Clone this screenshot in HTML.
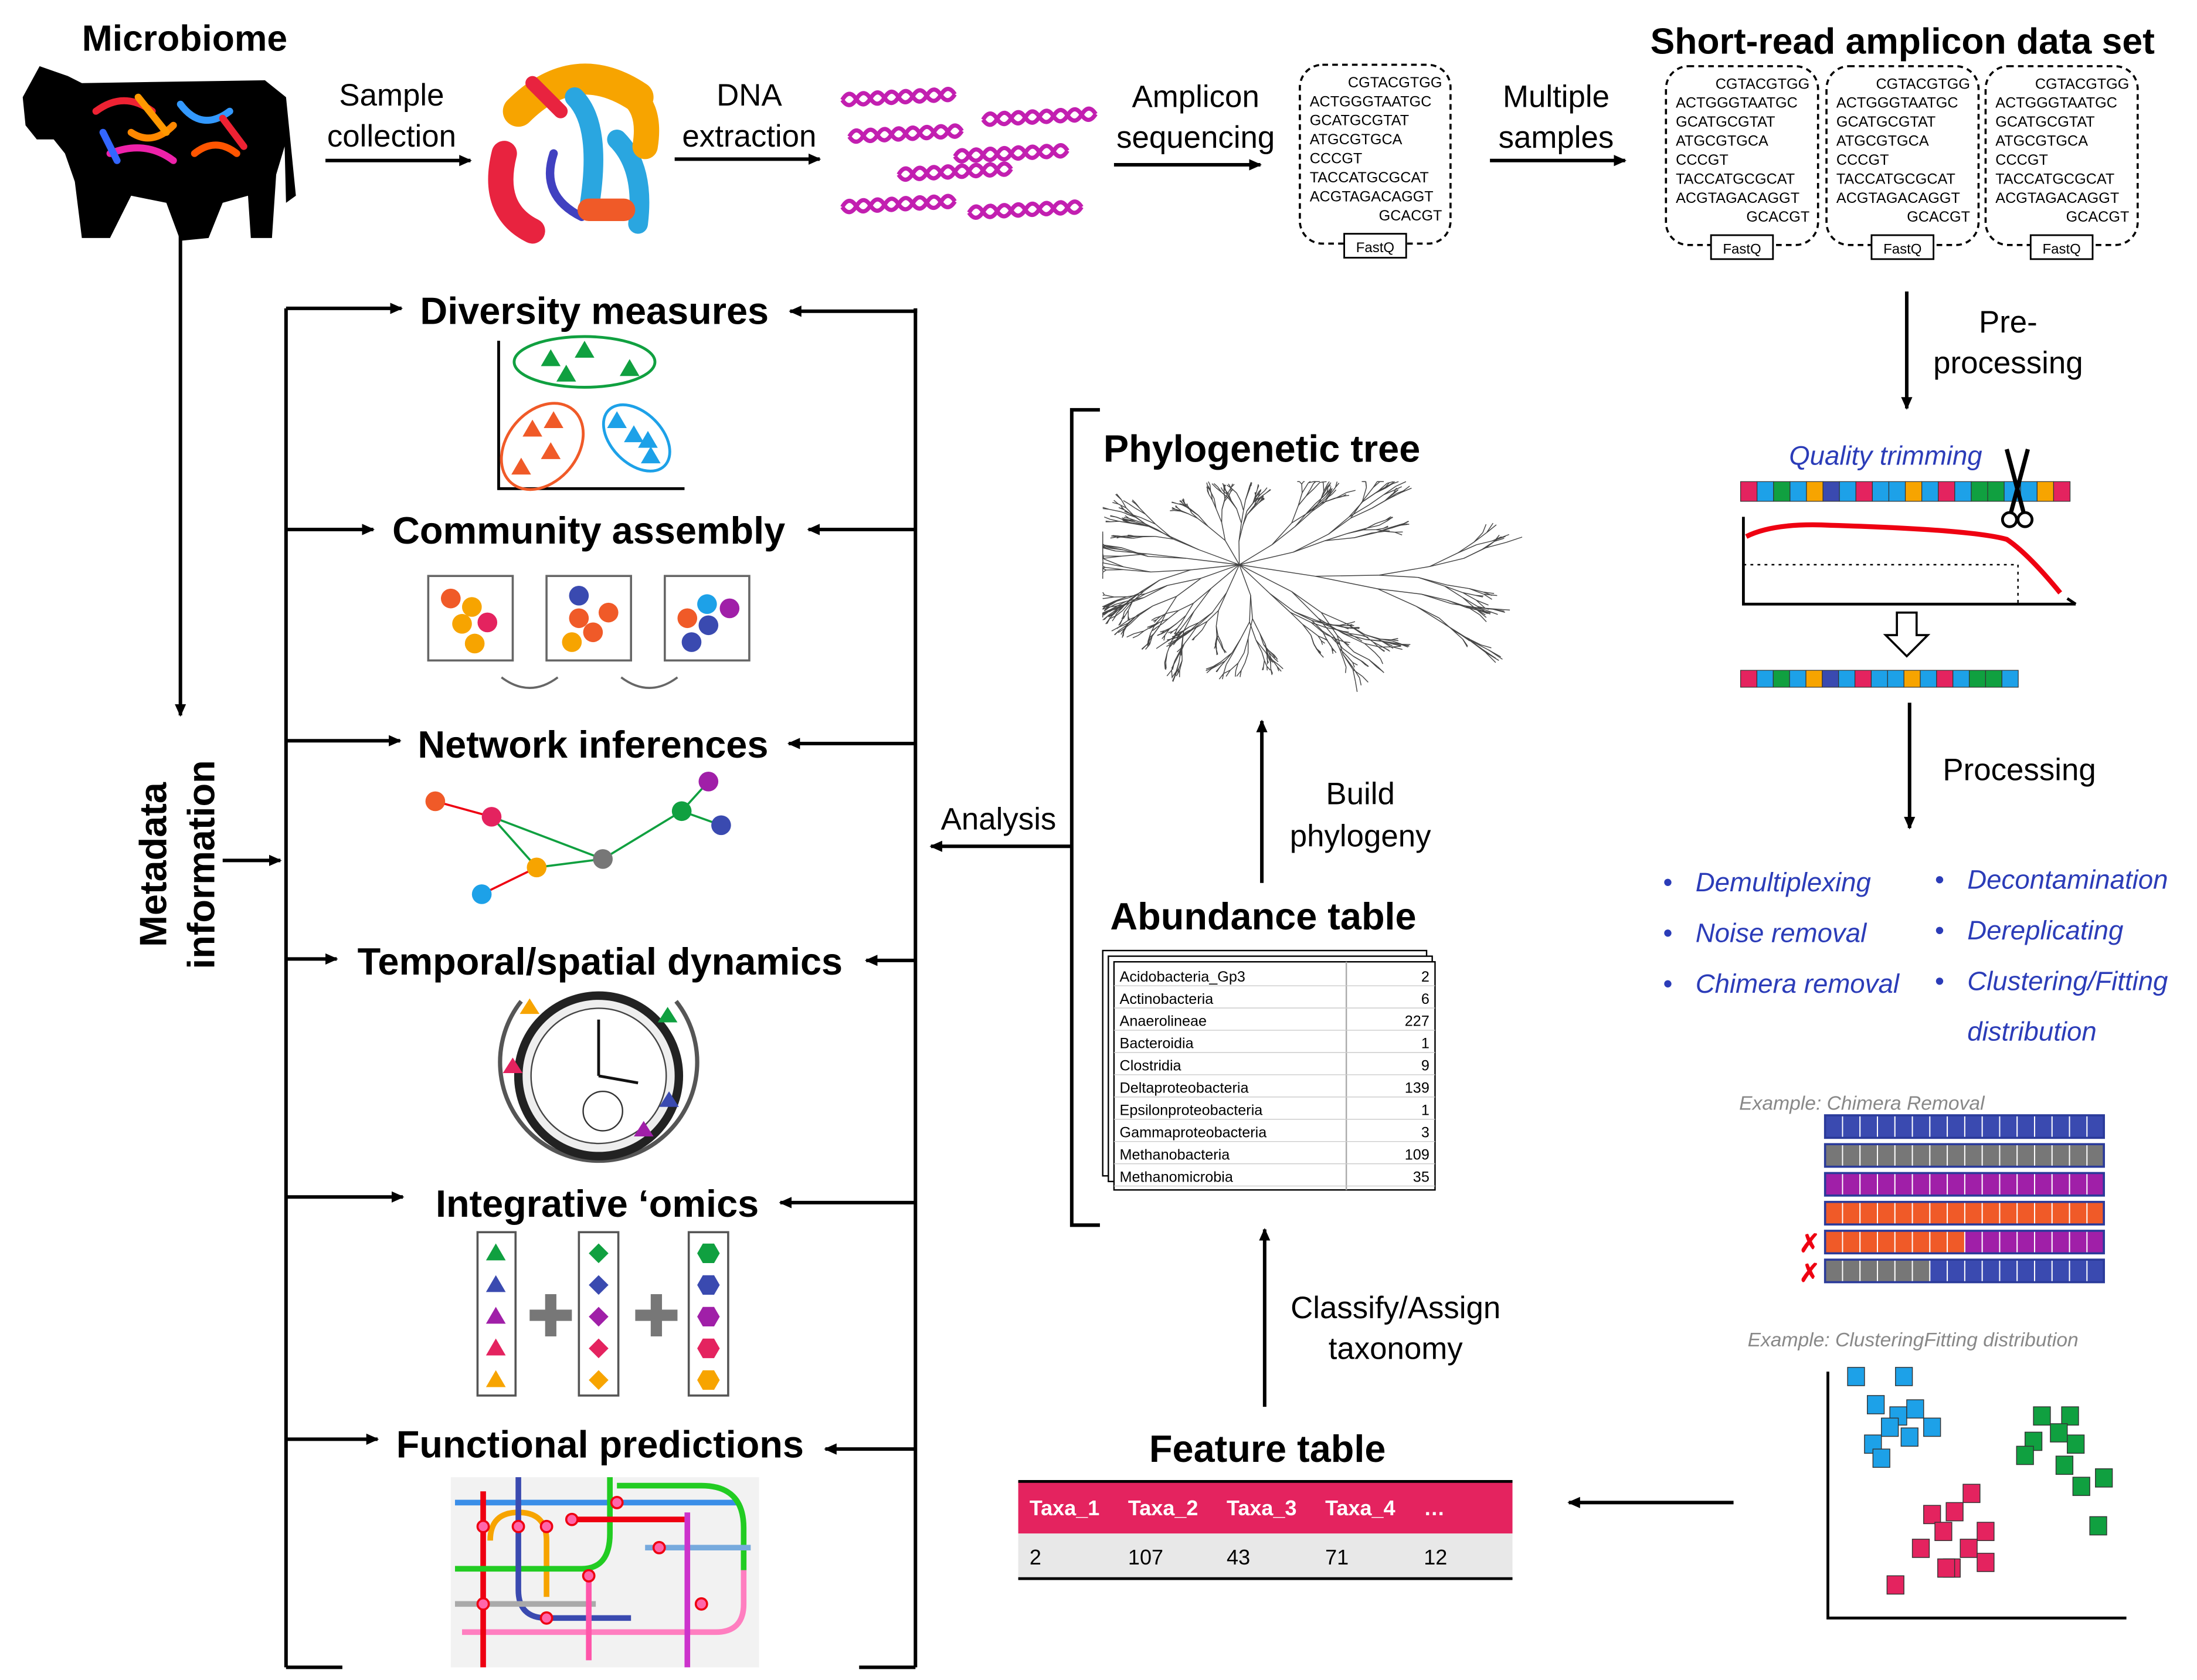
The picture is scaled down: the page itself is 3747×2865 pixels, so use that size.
<!DOCTYPE html>
<html><head><meta charset="utf-8"><style>
html,body{margin:0;padding:0;background:#fff;}
svg{display:block;}
text{font-family:"Liberation Sans",sans-serif;}
.h{font-weight:bold;font-size:27px;text-anchor:middle;}
.t{font-size:22px;text-anchor:middle;}
.b{font-size:19px;font-style:italic;fill:#2b3cb8;}
.seq{font-size:10.5px;}
</style></head><body>
<svg id="s" width="3747" height="2865" viewBox="2 1 1560 1193" xmlns="http://www.w3.org/2000/svg">
<defs>
<marker id="a" markerWidth="10" markerHeight="10" refX="8" refY="5" orient="auto" markerUnits="userSpaceOnUse"><path d="M0,1 L9,5 L0,9 z" fill="#000"/></marker>
</defs>
<g stroke="#000" stroke-width="2.5" fill="none">
<line x1="233" y1="115" x2="336" y2="115" marker-end="url(#a)"/>
<line x1="481" y1="114" x2="584" y2="114" marker-end="url(#a)"/>
<line x1="793" y1="118" x2="897" y2="118" marker-end="url(#a)"/>
<line x1="1060" y1="115" x2="1156" y2="115" marker-end="url(#a)"/>
<line x1="1356" y1="208" x2="1356" y2="291" marker-end="url(#a)"/>
<line x1="1358" y1="500" x2="1358" y2="589" marker-end="url(#a)"/>
<line x1="1233" y1="1068" x2="1116" y2="1068" marker-end="url(#a)"/>
<line x1="900" y1="1000" x2="900" y2="874" marker-end="url(#a)"/>
<line x1="898" y1="628" x2="898" y2="513" marker-end="url(#a)"/>
<polyline points="783,292 763,292 763,871 783,871"/>
<line x1="763" y1="602" x2="663" y2="602" marker-end="url(#a)"/>
<line x1="130" y1="165" x2="130" y2="509" marker-end="url(#a)"/>
<line x1="160" y1="612" x2="201" y2="612" marker-end="url(#a)"/>
<line x1="205" y1="220" x2="205" y2="1185"/>
<line x1="205" y1="1185" x2="245" y2="1185"/>
<line x1="652" y1="220" x2="652" y2="1185"/>
<line x1="652" y1="1185" x2="612" y2="1185"/>
<line x1="205" y1="220" x2="287" y2="220" marker-end="url(#a)"/>
<line x1="205" y1="377" x2="267" y2="377" marker-end="url(#a)"/>
<line x1="205" y1="527" x2="286" y2="527" marker-end="url(#a)"/>
<line x1="205" y1="682" x2="241" y2="682" marker-end="url(#a)"/>
<line x1="205" y1="851" x2="288" y2="851" marker-end="url(#a)"/>
<line x1="205" y1="1023" x2="270" y2="1023" marker-end="url(#a)"/>
<polyline points="652,220 652,222 563,222" marker-end="url(#a)"/>
<line x1="652" y1="377" x2="576" y2="377" marker-end="url(#a)"/>
<line x1="652" y1="529" x2="562" y2="529" marker-end="url(#a)"/>
<line x1="652" y1="683" x2="617" y2="683" marker-end="url(#a)"/>
<line x1="652" y1="855" x2="556" y2="855" marker-end="url(#a)"/>
<line x1="652" y1="1030" x2="588" y2="1030" marker-end="url(#a)"/>
</g>
<text x="133" y="37" class="h" style="font-size:26px">Microbiome</text>
<text x="280" y="76" class="t">Sample</text><text x="280" y="105" class="t">collection</text>
<text x="534" y="76" class="t">DNA</text><text x="534" y="105" class="t">extraction</text>
<text x="851" y="77" class="t">Amplicon</text><text x="851" y="106" class="t">sequencing</text>
<text x="1107" y="77" class="t">Multiple</text><text x="1107" y="106" class="t">samples</text>
<text x="1353" y="39" class="h" style="font-size:26px">Short-read amplicon data set</text>
<text x="1428" y="237" class="t">Pre-</text><text x="1428" y="266" class="t">processing</text>
<text x="1341" y="331" class="b" text-anchor="middle">Quality trimming</text>
<text x="1436" y="555" class="t">Processing</text>
<g class="b">
<text x="1183" y="634" font-style="normal">•</text><text x="1206" y="634">Demultiplexing</text>
<text x="1183" y="670" font-style="normal">•</text><text x="1206" y="670">Noise removal</text>
<text x="1183" y="706" font-style="normal">•</text><text x="1206" y="706">Chimera removal</text>
<text x="1376" y="632" font-style="normal">•</text><text x="1399" y="632">Decontamination</text>
<text x="1376" y="668" font-style="normal">•</text><text x="1399" y="668">Dereplicating</text>
<text x="1376" y="704" font-style="normal">•</text><text x="1399" y="704">Clustering/Fitting</text>
<text x="1399" y="740">distribution</text>
</g>
<text x="1237" y="789" style="font-size:14px;font-style:italic;fill:#888">Example: Chimera Removal</text>
<text x="1243" y="957" style="font-size:14px;font-style:italic;fill:#888">Example: ClusteringFitting distribution</text>
<text x="902" y="1039" class="h">Feature table</text>
<text x="993" y="937" class="t">Classify/Assign</text><text x="993" y="966" class="t">taxonomy</text>
<text x="899" y="661" class="h">Abundance table</text>
<text x="968" y="572" class="t">Build</text><text x="968" y="602" class="t">phylogeny</text>
<text x="898" y="329" class="h">Phylogenetic tree</text>
<text x="711" y="590" class="t">Analysis</text>
<text transform="translate(120,615) rotate(-90)" class="h">Metadata</text>
<text transform="translate(154,615) rotate(-90)" class="h">information</text>
<text x="424" y="231" class="h">Diversity measures</text>
<text x="420" y="387" class="h">Community assembly</text>
<text x="423" y="539" class="h">Network inferences</text>
<text x="428" y="693" class="h">Temporal/spatial dynamics</text>
<text x="426" y="865" class="h">Integrative ‘omics</text>
<text x="428" y="1036" class="h">Functional predictions</text>
<!-- cow -->
<path d="M18,70 L30,48 L50,55 L60,60 L190,58 L205,70 L208,100 L212,140 L205,145 L204,105 L198,125 L195,170 L180,170 L178,140 L160,145 L150,170 L130,172 L120,145 L95,140 L80,170 L60,170 L55,130 L48,110 L40,100 L28,100 L20,90 Z" fill="#000"/>
<g stroke-width="5" fill="none" stroke-linecap="round">
<path d="M70,80 q20,-15 40,0" stroke="#e23"/><path d="M95,95 q15,10 30,-5" stroke="#f80"/><path d="M130,75 q15,20 35,5" stroke="#39f"/><path d="M80,110 q25,-10 45,5" stroke="#e2a"/><path d="M140,110 q15,-12 30,0" stroke="#f50"/><path d="M100,70 l20,25" stroke="#f90"/><path d="M160,85 l15,20" stroke="#e23"/><path d="M75,95 l10,20" stroke="#36f"/>
</g>
<g fill="none" stroke-linecap="round">
<path d="M370,80 q40,-40 85,-10" stroke="#f7a400" stroke-width="22"/>
<path d="M360,110 q-10,40 20,55" stroke="#e8233f" stroke-width="18"/>
<path d="M410,70 q20,20 10,80" stroke="#2aa6e0" stroke-width="14"/>
<path d="M440,100 q20,20 15,60" stroke="#2aa6e0" stroke-width="14"/>
<path d="M395,110 q-10,30 20,45" stroke="#4040c0" stroke-width="6"/>
<path d="M445,65 q20,10 15,40" stroke="#f7a400" stroke-width="18"/>
<path d="M420,150 l25,0" stroke="#f05a28" stroke-width="16"/>
<path d="M380,60 l20,20" stroke="#e8233f" stroke-width="10"/>
</g>
<g id="dna" stroke="#c21fb0" stroke-width="3" fill="none"></g>
<g id="seqs"></g>
<g id="qbar"></g>
<g stroke="#000" stroke-width="2" fill="none">
<polyline points="1240,368 1240,430 1476,430"/>
<line x1="1476" y1="430" x2="1470" y2="426"/>
<line x1="1240" y1="402" x2="1435" y2="402" stroke-dasharray="2,3" stroke-width="1"/>
<line x1="1435" y1="402" x2="1435" y2="430" stroke-dasharray="2,3" stroke-width="1"/>
<path d="M1349,436 h14 v16 h8 l-15,15 l-15,-15 h8 z" stroke-width="1.5"/>
<circle cx="1429" cy="370" r="5"/><circle cx="1440" cy="370" r="5"/>
<line x1="1430" y1="365" x2="1442" y2="320" stroke-width="3"/><line x1="1439" y1="365" x2="1427" y2="320" stroke-width="3"/>
</g>
<path d="M1242,382 q20,-10 60,-8 q100,3 125,10 q15,10 38,38" stroke="#e01" stroke-width="3.5" fill="none"/>
<g id="grid"></g>
<g stroke="#000" stroke-width="2" fill="none"><polyline points="1300,975 1300,1150 1512,1150"/></g>
<g id="sc"></g>
<text x="1287" y="890" fill="#e01" font-size="18" font-weight="bold" text-anchor="middle">✗</text>
<text x="1287" y="911" fill="#e01" font-size="18" font-weight="bold" text-anchor="middle">✗</text>
<rect x="725" y="1053" width="351" height="37" fill="#e4235f"/>
<rect x="725" y="1090" width="351" height="32" fill="#e8e8e8"/>
<line x1="725" y1="1053" x2="1076" y2="1053" stroke="#000" stroke-width="2"/>
<line x1="725" y1="1122" x2="1076" y2="1122" stroke="#000" stroke-width="2"/>
<g font-size="15" font-weight="bold" fill="#fff"><text x="733" y="1077">Taxa_1</text><text x="803" y="1077">Taxa_2</text><text x="873" y="1077">Taxa_3</text><text x="943" y="1077">Taxa_4</text><text x="1013" y="1077">…</text></g>
<g font-size="15"><text x="733" y="1112">2</text><text x="803" y="1112">107</text><text x="873" y="1112">43</text><text x="943" y="1112">71</text><text x="1013" y="1112">12</text></g>
<rect x="785" y="676" width="230" height="160" fill="#fff" stroke="#000"/>
<rect x="789" y="680" width="230" height="160" fill="#fff" stroke="#000"/>
<g id="ab"></g>
<g id="tree" stroke="#444" stroke-width="0.6"></g>
<g stroke="#000" stroke-width="2" fill="none"><polyline points="356,243 356,348 488,348"/></g>
<ellipse cx="417" cy="258" rx="50" ry="18" fill="none" stroke="#10a040" stroke-width="2"/>
<ellipse cx="387" cy="318" rx="25" ry="34" transform="rotate(40 387 318)" fill="none" stroke="#f05a28" stroke-width="2"/>
<ellipse cx="454" cy="312" rx="18" ry="28" transform="rotate(-45 454 312)" fill="none" stroke="#1da1e8" stroke-width="2"/>
<g id="tri"></g>
<g fill="#fff" stroke="#666" stroke-width="1.5"><rect x="306" y="410" width="60" height="60"/><rect x="390" y="410" width="60" height="60"/><rect x="474" y="410" width="60" height="60"/></g>
<g><circle cx="322" cy="426" r="7" fill="#f05a28"/><circle cx="337" cy="432" r="7" fill="#f7a400"/><circle cx="348" cy="443" r="7" fill="#e4235f"/><circle cx="330" cy="444" r="7" fill="#f7a400"/><circle cx="339" cy="458" r="7" fill="#f7a400"/>
<circle cx="413" cy="424" r="7" fill="#3a4ab0"/><circle cx="434" cy="436" r="7" fill="#f05a28"/><circle cx="413" cy="440" r="7" fill="#f05a28"/><circle cx="423" cy="450" r="7" fill="#f05a28"/><circle cx="408" cy="457" r="7" fill="#f7a400"/>
<circle cx="504" cy="430" r="7" fill="#1da1e8"/><circle cx="520" cy="433" r="7" fill="#a01fa8"/><circle cx="490" cy="440" r="7" fill="#f05a28"/><circle cx="505" cy="445" r="7" fill="#3a4ab0"/><circle cx="493" cy="457" r="7" fill="#3a4ab0"/></g>
<g stroke="#666" stroke-width="1.5" fill="none"><path d="M358,482 q20,15 40,0"/><path d="M443,482 q20,15 40,0"/></g>
<g stroke-width="1.5" fill="none"><line x1="311" y1="570" x2="351" y2="581" stroke="#e01"/><line x1="351" y1="581" x2="430" y2="611" stroke="#10a040"/><line x1="351" y1="581" x2="383" y2="617" stroke="#10a040"/><line x1="383" y1="617" x2="430" y2="611" stroke="#10a040"/><line x1="383" y1="617" x2="344" y2="636" stroke="#e01"/><line x1="430" y1="611" x2="486" y2="577" stroke="#10a040"/><line x1="486" y1="577" x2="505" y2="556" stroke="#10a040"/><line x1="486" y1="577" x2="514" y2="587" stroke="#10a040"/></g>
<circle cx="311" cy="570" r="7" fill="#f05a28"/><circle cx="351" cy="581" r="7" fill="#e4235f"/><circle cx="430" cy="611" r="7" fill="#777"/><circle cx="383" cy="617" r="7" fill="#f7a400"/><circle cx="344" cy="636" r="7" fill="#1da1e8"/><circle cx="486" cy="577" r="7" fill="#10a040"/><circle cx="505" cy="556" r="7" fill="#a01fa8"/><circle cx="514" cy="587" r="7" fill="#3a4ab0"/>
<path d="M372,712 A70,70 0 1 0 482,712" fill="none" stroke="#555" stroke-width="3"/>
<circle cx="427" cy="765" r="57" fill="#eee" stroke="#222" stroke-width="6"/>
<circle cx="427" cy="765" r="48" fill="#fff" stroke="#444" stroke-width="1"/>
<g stroke="#111" stroke-width="2"><line x1="427" y1="765" x2="427" y2="725"/><line x1="427" y1="765" x2="455" y2="770"/></g>
<circle cx="430" cy="790" r="14" fill="none" stroke="#333"/>
<g><path d="M378,710 l7,11 h-14z" fill="#f7a400"/><path d="M476,716 l7,11 h-14z" fill="#10a040"/><path d="M366,752 l7,11 h-14z" fill="#e4235f"/><path d="M477,776 l7,11 h-14z" fill="#3a4ab0"/><path d="M459,797 l7,11 h-14z" fill="#a01fa8"/></g>
<g fill="#fff" stroke="#555" stroke-width="1.5"><rect x="341" y="876" width="27" height="116"/><rect x="413" y="876" width="28" height="116"/><rect x="491" y="876" width="28" height="116"/></g>
<g fill="#777"><rect x="378" y="931" width="30" height="8"/><rect x="389" y="920" width="8" height="30"/><rect x="453" y="931" width="30" height="8"/><rect x="464" y="920" width="8" height="30"/></g>
<g id="om"></g>
<g id="metro" fill="none" stroke-width="4"></g>
</svg>
<script>
var NS="http://www.w3.org/2000/svg";
function el(p,t,a){var e=document.createElementNS(NS,t);for(var k in a)e.setAttribute(k,a[k]);p.appendChild(e);return e;}
function g(id){return document.getElementById(id);}
var d=g("dna");[[600,72],[700,86],[605,98],[680,112],[640,125],[600,148],[690,152]].forEach(function(p){
 var s="M"+p[0]+","+p[1],s2="M"+p[0]+","+p[1];for(var i=1;i<=8;i++){var x=p[0]+i*10,y=p[1]-i*0.5;s+=" Q"+(x-5)+","+(y-(i%2?8:-8))+" "+x+","+y;s2+=" Q"+(x-5)+","+(y+(i%2?8:-8))+" "+x+","+y;}
 el(d,"path",{d:s});el(d,"path",{d:s2});});
var seqL=["CGTACGTGG","ACTGGGTAATGC","GCATGCGTAT","ATGCGTGCA","CCCGT","TACCATGCGCAT","ACGTAGACAGGT","GCACGT"],al=[1,0,0,0,0,0,0,1];
var sq=g("seqs");[[925,47,107],[1185,48,108],[1299,48,108],[1412,48,108]].forEach(function(b){
 el(sq,"rect",{x:b[0],y:b[1],width:b[2],height:127,rx:16,fill:"none",stroke:"#000","stroke-width":1.5,"stroke-dasharray":"4,3"});
 seqL.forEach(function(t,i){var tx=el(sq,"text",{x:al[i]?b[0]+b[2]-6:b[0]+7,y:b[1]+16+i*13.5,"class":"seq","text-anchor":al[i]?"end":"start"});tx.textContent=t;});
 var cx=b[0]+b[2]/2;el(sq,"rect",{x:cx-22,y:b[1]+120,width:44,height:17,fill:"#fff",stroke:"#000","stroke-width":1.2});
 var f=el(sq,"text",{x:cx,y:b[1]+133,"font-size":10,"text-anchor":"middle"});f.textContent="FastQ";});
var cols=["#e4235f","#1da1e8","#10a040","#1da1e8","#f7a400","#3a4ab0","#1da1e8","#e4235f","#1da1e8","#1da1e8","#f7a400","#1da1e8","#e4235f","#1da1e8","#10a040","#10a040","#1da1e8","#1da1e8","#f7a400","#e4235f"];
var q=g("qbar");for(var i=0;i<20;i++){el(q,"rect",{x:1238+i*11.7,y:343,width:11.7,height:14,fill:cols[i],stroke:"#333","stroke-width":0.5});if(i<17)el(q,"rect",{x:1238+i*11.6,y:477,width:11.6,height:12,fill:cols[i],stroke:"#333","stroke-width":0.5});}
var gr=g("grid"),rows=[["#3a4ab0",16],["#777",16],["#a01fa8",16],["#f05a28",16],["#f05a28",8,"#a01fa8"],["#777",6,"#3a4ab0"]];
rows.forEach(function(r,j){for(var i=0;i<16;i++){el(gr,"rect",{x:1298+i*12.4,y:793+j*20.5,width:12.4,height:16,fill:i<r[1]?r[0]:r[2],stroke:"#fff","stroke-width":0.8});}el(gr,"rect",{x:1298,y:793+j*20.5,width:198,height:16,fill:"none",stroke:"#2a3a9a","stroke-width":1.5});});
var sc=g("sc");function sqs(pts,c){pts.forEach(function(p){el(sc,"rect",{x:p[0],y:p[1],width:12,height:13,fill:c,stroke:"#333","stroke-width":0.6});});}
sqs([[1314,972],[1348,972],[1328,992],[1344,1000],[1356,995],[1338,1008],[1352,1015],[1368,1008],[1326,1020],[1332,1030]],"#1da1e8");
sqs([[1446,1000],[1466,1000],[1458,1012],[1440,1018],[1470,1020],[1434,1028],[1462,1035],[1490,1044],[1474,1050],[1486,1078]],"#10a040");
sqs([[1396,1055],[1368,1070],[1384,1068],[1406,1082],[1376,1082],[1394,1094],[1360,1094],[1382,1108],[1406,1104],[1342,1120],[1378,1108]],"#e4235f");
var ab=g("ab");el(ab,"rect",{x:793,y:684,width:228,height:162,fill:"#fff",stroke:"#000"});el(ab,"line",{x1:958,y1:684,x2:958,y2:846,stroke:"#aaa"});
[["Acidobacteria_Gp3",2],["Actinobacteria",6],["Anaerolineae",227],["Bacteroidia",1],["Clostridia",9],["Deltaproteobacteria",139],["Epsilonproteobacteria",1],["Gammaproteobacteria",3],["Methanobacteria",109],["Methanomicrobia",35]].forEach(function(r,i){var y=698+i*15.8;
 var t=el(ab,"text",{x:797,y:y,"font-size":10.5});t.textContent=r[0];var n=el(ab,"text",{x:1017,y:y,"font-size":10.5,"text-anchor":"end"});n.textContent=r[1];
 el(ab,"line",{x1:793,y1:y+3,x2:1021,y2:y+3,stroke:"#ccc","stroke-width":0.6});});
// tree: radial, bounded to 785-1085 x, 343-520 y
var tr=g("tree"),seed=7;function R(){seed=(seed*9301+49297)%233280;return seed/233280;}
var CX=882,CY=402;
function br(x,y,a,l,dp){if(dp>6)return;var x2=x+Math.cos(a)*l,y2=y+Math.sin(a)*l*0.75;
 if(x2<785)x2=785;if(x2>1085)x2=1085;if(y2<343)y2=343;if(y2>520)y2=520;
 el(tr,"line",{x1:x,y1:y,x2:x2,y2:y2});var n=dp<3?2:(R()<0.6?2:1);for(var i=0;i<n;i++)br(x2,y2,a+(R()-0.5)*0.7,l*(0.6+R()*0.25),dp+1);}
var dirs=[[3.3,38],[3.0,35],[2.7,30],[3.6,32],[4.3,25],[4.7,22],[2.3,30],[1.9,28],[1.3,30],[0.6,45],[0.2,55],[-0.3,40],[5.6,30],[0.9,35]];
dirs.forEach(function(dd){br(CX,CY,dd[0],dd[1],0);});
var tri=g("tri");function T(x,y,c){el(tri,"path",{d:"M"+x+","+(y-7)+" l7,12 h-14z",fill:c});}
[[393,256],[417,250],[404,267],[449,263]].forEach(function(p){T(p[0],p[1],"#10a040");});
[[395,300],[380,306],[393,322],[372,333]].forEach(function(p){T(p[0],p[1],"#f05a28");});
[[440,300],[452,310],[462,314],[464,325]].forEach(function(p){T(p[0],p[1],"#1da1e8");});
var om=g("om"),oc=["#10a040","#3a4ab0","#a01fa8","#e4235f","#f7a400"];
oc.forEach(function(c,i){var y=891+i*22.5;el(om,"path",{d:"M354,"+(y-7)+" l7,12 h-14z",fill:c});el(om,"path",{d:"M427,"+(y-7)+" l7,7 l-7,7 l-7,-7z",fill:c});
 var s="";for(var k=0;k<6;k++){var a=k*Math.PI/3;s+=(k?"L":"M")+(505+8*Math.cos(a))+","+(y+8*Math.sin(a));}el(om,"path",{d:s+"z",fill:c});});
var m=g("metro");el(m,"rect",{x:322,y:1050,width:219,height:135,fill:"#f2f2f2",stroke:"none"});
[["#3a8ee8","M325,1068 h200"],["#ff7ec0","M330,1160 h180 q20,0 20,-20 v-40"],["#22cc22","M440,1056 h60 q30,0 30,30 v30"],["#e01","M345,1060 v125"],["#f7a400","M350,1095 q0,-20 20,-20 q20,0 20,20 v40"],["#22cc22","M325,1115 h90 q20,0 20,-25 v-40"],["#3a4ab0","M370,1050 v80 q0,20 20,20 h60"],["#aaa","M325,1140 h100"],["#e01","M408,1080 h80"],["#7ad","M460,1100 h75"],["#f5a","M420,1120 v60"],["#c3c","M490,1075 v110"]].forEach(function(l){el(m,"path",{d:l[1],stroke:l[0]});});
[[345,1085],[370,1085],[390,1085],[408,1080],[440,1068],[420,1120],[470,1100],[345,1140],[390,1150],[500,1140]].forEach(function(p){el(m,"circle",{cx:p[0],cy:p[1],r:4,fill:"#f6a","stroke":"#e01","stroke-width":1.5});});
</script>
</body></html>
